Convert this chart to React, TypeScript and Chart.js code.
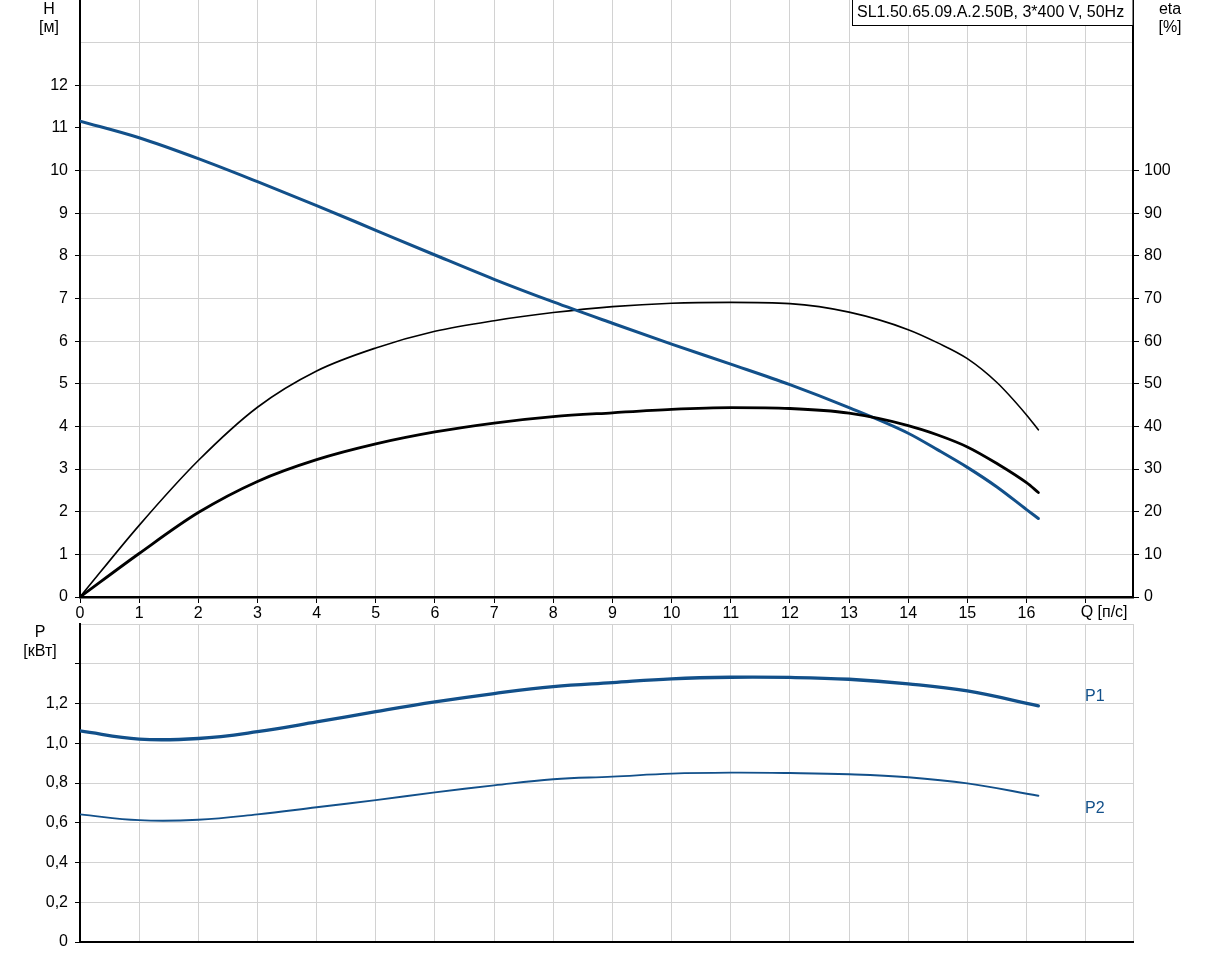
import React, { useEffect, useRef } from 'react';
import { Chart, registerables } from 'chart.js';

Chart.register(...registerables);

// ---- data ----
const Q = [0, 1, 2, 3, 4, 5, 6, 7, 8, 9, 10, 11, 12, 13, 14, 14.5, 15, 15.5, 16, 16.2];
const H = [11.16, 10.77, 10.28, 9.74, 9.18, 8.6, 8.02, 7.45, 6.92, 6.42, 5.93, 5.46, 4.98, 4.44, 3.84, 3.45, 3.04, 2.58, 2.05, 1.84];
const ETA_PUMP = [0, 16.8, 32.0, 44.5, 53.0, 58.4, 62.3, 64.8, 66.7, 68.1, 68.9, 69.1, 68.8, 66.8, 62.7, 59.6, 55.9, 50.3, 42.7, 39.2];
const ETA_TOTAL = [0, 10.2, 19.8, 27.1, 32.2, 35.9, 38.7, 40.8, 42.3, 43.2, 44.0, 44.4, 44.2, 43.1, 40.2, 38.0, 35.2, 31.3, 26.8, 24.5];

const Q_P = [0, 1, 2, 3, 4, 5, 6, 7, 8, 9, 10, 11, 12, 13, 14, 15, 16.2];
const P1 = [1.062, 1.021, 1.024, 1.058, 1.107, 1.159, 1.208, 1.25, 1.285, 1.305, 1.324, 1.332, 1.331, 1.322, 1.299, 1.263, 1.188];
const P2 = [0.642, 0.613, 0.615, 0.642, 0.678, 0.714, 0.753, 0.788, 0.819, 0.832, 0.847, 0.852, 0.85, 0.844, 0.829, 0.798, 0.736];

const X_TICK_LABELS = ['0', '1', '2', '3', '4', '5', '6', '7', '8', '9', '10', '11', '12', '13', '14', '15', '16'];
const X_AXIS_TITLE = 'Q [п/с]';
const H_MAX_LABEL = 12;
const ETA_MAX_LABEL = 100;
const P_MAX_LABEL = 1.2;
const P_MAX_TICK = 1.4;
const TITLE = 'SL1.50.65.09.A.2.50B, 3*400 V, 50Hz';
const H_AXIS_TITLE = ['H', '[м]'];
const ETA_AXIS_TITLE = ['eta', '[%]'];
const P_AXIS_TITLE = ['P', '[кВт]'];
const P_SERIES_NAMES = ['P1', 'P2'];

// ---- styles ----
const FONT_FAMILY = '"Liberation Sans", Arial, sans-serif';
const FONT = '16px ' + FONT_FAMILY;
const BLUE = '#12508a';
const GRID = '#d2d2d2';
const W = 1209;
const TOP_H = 620;
const BOT_TOP = 620;
const BOT_H = 335;

const pts = (xs: number[], ys: number[]) => xs.map((q, i) => ({ x: q, y: ys[i] }));

function fixScale(width?: number, height?: number) {
  return (s: any) => {
    if (width !== undefined) s.width = width;
    if (height !== undefined) s.height = height;
    s.paddingTop = 0;
    s.paddingBottom = 0;
    s.paddingLeft = 0;
    s.paddingRight = 0;
  };
}

const xTickLabel = (v: number) =>
  Number.isInteger(v) && v >= 0 && v < X_TICK_LABELS.length ? X_TICK_LABELS[v] : '';

export default function App() {
  const topRef = useRef<HTMLCanvasElement | null>(null);
  const botRef = useRef<HTMLCanvasElement | null>(null);

  useEffect(() => {
    const tickFont = { family: FONT_FAMILY, size: 16 };

    const topLabels = {
      id: 'topLabels',
      afterDraw(chart: any) {
        const ctx = chart.ctx;
        ctx.save();
        ctx.font = FONT;
        ctx.fillStyle = '#000';
        ctx.textAlign = 'center';
        ctx.textBaseline = 'alphabetic';
        ctx.fillText(H_AXIS_TITLE[0], 49, 14);
        ctx.fillText(H_AXIS_TITLE[1], 49, 32);
        ctx.fillText(ETA_AXIS_TITLE[0], 1170, 14);
        ctx.fillText(ETA_AXIS_TITLE[1], 1170, 32);
        // x axis title at position of Q = 17
        const xs = chart.scales.x;
        ctx.textAlign = 'left';
        ctx.fillText(X_AXIS_TITLE, xs.getPixelForValue(17) - 5, 617);
        // title box
        const right = chart.chartArea.right;
        ctx.fillStyle = '#fff';
        ctx.fillRect(852.5, -1, right - 852.5, 26.5);
        ctx.strokeStyle = '#000';
        ctx.lineWidth = 1;
        ctx.strokeRect(852.5, -1, right - 852.5, 26.5);
        ctx.fillStyle = '#000';
        ctx.fillText(TITLE, 857, 17);
        ctx.restore();
      },
    };

    const botLabels = {
      id: 'botLabels',
      afterDraw(chart: any) {
        const ctx = chart.ctx;
        ctx.save();
        ctx.font = FONT;
        ctx.fillStyle = '#000';
        ctx.textAlign = 'center';
        ctx.textBaseline = 'alphabetic';
        ctx.fillText(P_AXIS_TITLE[0], 40, 637 - BOT_TOP);
        ctx.fillText(P_AXIS_TITLE[1], 40, 656 - BOT_TOP);
        ctx.fillStyle = BLUE;
        ctx.textAlign = 'left';
        ctx.fillText(P_SERIES_NAMES[0], 1085, 701 - BOT_TOP);
        ctx.fillText(P_SERIES_NAMES[1], 1085, 813 - BOT_TOP);
        ctx.restore();
      },
    };

    const top = new Chart(topRef.current as HTMLCanvasElement, {
      type: 'line',
      data: {
        datasets: [
          { data: pts(Q, ETA_TOTAL), yAxisID: 'y2', borderColor: '#000', borderWidth: 2.8 },
          { data: pts(Q, H), yAxisID: 'y', borderColor: BLUE, borderWidth: 3 },
          { data: pts(Q, ETA_PUMP), yAxisID: 'y2', borderColor: '#000', borderWidth: 1.6 },
        ] as any,
      },
      options: {
        responsive: false,
        animation: false,
        parsing: false as any,
        layout: { padding: 0 },
        elements: {
          point: { radius: 0, hoverRadius: 0 },
          line: { cubicInterpolationMode: 'monotone', fill: false, borderCapStyle: 'round' },
        },
        plugins: { legend: { display: false }, tooltip: { enabled: false }, title: { display: false } },
        events: [],
        scales: {
          x: {
            type: 'linear',
            position: 'bottom',
            min: 0,
            max: 17.8,
            ticks: {
              stepSize: 1,
              includeBounds: false,
              autoSkip: false,
              maxRotation: 0,
              minRotation: 0,
              padding: 1,
              color: '#000',
              font: tickFont,
              callback: (v: any) => xTickLabel(Number(v)),
            },
            grid: { color: GRID, lineWidth: 1, tickColor: '#000', tickLength: 6 },
            border: { color: '#000', width: 2.5 },
            afterFit: fixScale(undefined, TOP_H - 597),
          },
          y: {
            type: 'linear',
            position: 'left',
            min: 0,
            max: 14,
            ticks: {
              stepSize: 1,
              includeBounds: false,
              autoSkip: false,
              padding: 7,
              color: '#000',
              font: tickFont,
              callback: (v: any) => (Number(v) <= H_MAX_LABEL ? String(v) : ''),
            },
            grid: {
              color: (c: any) => (c.tick && c.tick.value >= 14 ? 'rgba(0,0,0,0)' : GRID),
              tickColor: (c: any) => (c.tick && c.tick.value <= H_MAX_LABEL ? '#000' : 'rgba(0,0,0,0)'),
              tickLength: 5,
              lineWidth: 1,
            },
            border: { color: '#000', width: 2 },
            afterFit: fixScale(80, undefined),
          },
          y2: {
            type: 'linear',
            position: 'right',
            min: 0,
            max: 140,
            ticks: {
              stepSize: 10,
              includeBounds: false,
              autoSkip: false,
              padding: 5,
              color: '#000',
              font: tickFont,
              callback: (v: any) => (Number(v) <= ETA_MAX_LABEL ? String(v) : ''),
            },
            grid: {
              drawOnChartArea: false,
              tickColor: (c: any) => (c.tick && c.tick.value <= ETA_MAX_LABEL ? '#000' : 'rgba(0,0,0,0)'),
              tickLength: 6,
            },
            border: { color: '#000', width: 2 },
            afterFit: fixScale(W - 1133, undefined),
          },
        },
      } as any,
      plugins: [topLabels],
    });

    const bot = new Chart(botRef.current as HTMLCanvasElement, {
      type: 'line',
      data: {
        datasets: [
          { data: pts(Q_P, P1), borderColor: BLUE, borderWidth: 3.3 },
          { data: pts(Q_P, P2), borderColor: BLUE, borderWidth: 1.9 },
        ] as any,
      },
      options: {
        responsive: false,
        animation: false,
        parsing: false as any,
        layout: { padding: { top: 4, right: W - 1133, left: 0, bottom: 0 } },
        elements: {
          point: { radius: 0, hoverRadius: 0 },
          line: { tension: 0.4, cubicInterpolationMode: 'default', fill: false, borderCapStyle: 'round' },
        },
        plugins: { legend: { display: false }, tooltip: { enabled: false }, title: { display: false } },
        events: [],
        scales: {
          x: {
            type: 'linear',
            position: 'bottom',
            min: 0,
            max: 17.8,
            ticks: { stepSize: 1, includeBounds: true, display: false },
            grid: { color: GRID, lineWidth: 1, drawTicks: false },
            border: { color: '#000', width: 2 },
            afterFit: fixScale(undefined, BOT_H - 322),
          },
          y: {
            type: 'linear',
            position: 'left',
            min: 0,
            max: 1.6,
            ticks: {
              stepSize: 0.2,
              autoSkip: false,
              padding: 7,
              color: '#000',
              font: tickFont,
              callback: (v: any) => {
                const r = Math.round(Number(v) * 10) / 10;
                if (r > P_MAX_LABEL + 1e-9) return '';
                return r === 0 ? '0' : r.toFixed(1).replace('.', ',');
              },
            },
            grid: {
              color: GRID,
              lineWidth: 1,
              tickColor: (c: any) => (c.tick && c.tick.value <= P_MAX_TICK + 1e-9 ? '#000' : 'rgba(0,0,0,0)'),
              tickLength: 5,
            },
            border: { color: '#000', width: 2 },
            afterFit: fixScale(80, undefined),
          },
        },
      } as any,
      plugins: [botLabels],
    });

    return () => {
      top.destroy();
      bot.destroy();
    };
  }, []);

  return (
    <div style={{ position: 'absolute', left: 0, top: 0, width: W, height: 955, background: '#fff', overflow: 'hidden' }}>
      <canvas ref={topRef} width={W} height={TOP_H} style={{ position: 'absolute', left: 0, top: 0, width: W, height: TOP_H, display: 'block' }} />
      <canvas ref={botRef} width={W} height={BOT_H} style={{ position: 'absolute', left: 0, top: BOT_TOP, width: W, height: BOT_H, display: 'block' }} />
    </div>
  );
}
